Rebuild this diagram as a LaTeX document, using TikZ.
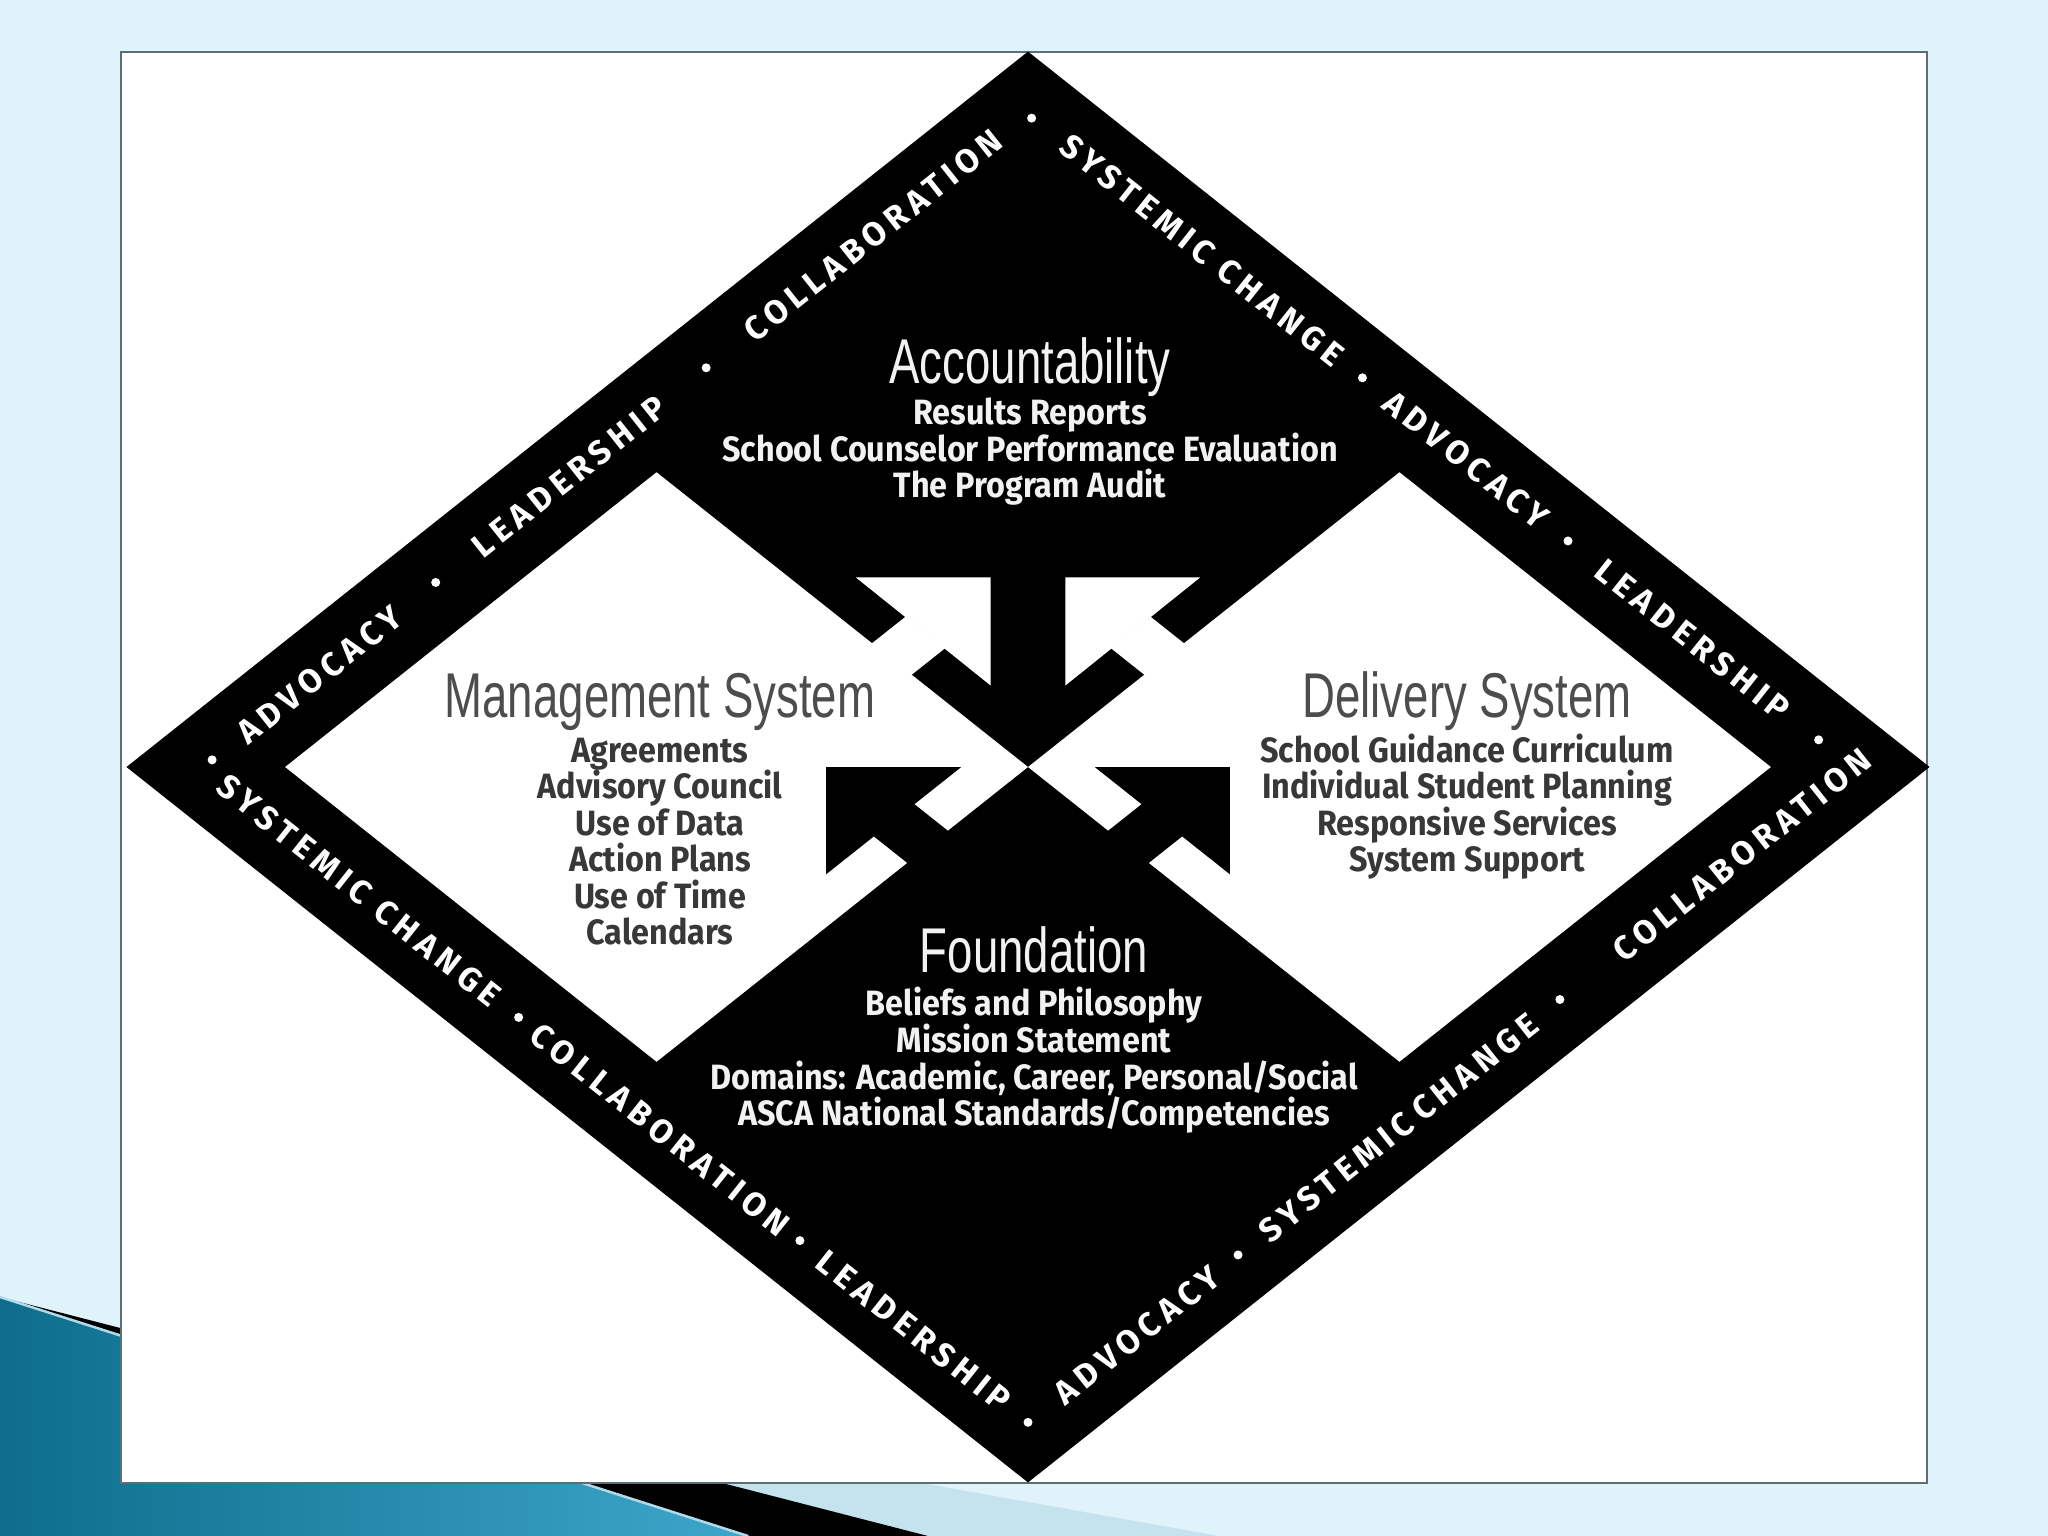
\documentclass[tikz,border=0pt]{standalone}
\usepackage{fontspec}
\newfontfamily\titlefont[FakeStretch=0.72]{Liberation Sans}
\newfontfamily\subfont[FakeStretch=0.92]{Fira Sans}
\newfontfamily\bandfont[LetterSpace=17]{Fira Sans}
\definecolor{bgcyan}{HTML}{E0F3FA}
\definecolor{lightwedge}{HTML}{C4E3EC}
\definecolor{tealA}{HTML}{0E6D8C}
\definecolor{tealB}{HTML}{3EA6CB}
\definecolor{panelborder}{HTML}{5E6E74}
\definecolor{graytitle}{HTML}{4D4D4D}
\definecolor{graysub}{HTML}{383838}
\definecolor{whitetext}{HTML}{F2F2F2}
\tikzset{
  titletext/.style={font=\titlefont\fontsize{18}{20}\selectfont, inner sep=0pt, anchor=base},
  subtext/.style={font=\subfont\bfseries\fontsize{10}{11}\selectfont, inner sep=0pt, anchor=base},
  bandword/.style={font=\bandfont\bfseries\fontsize{9.5}{10}\selectfont, text=white, inner sep=0pt, anchor=center},
  banddot/.style={circle, fill=white, inner sep=0pt, minimum size=0.09cm},
  upleft/.style={rotate=38.4},
  upright/.style={rotate=-38.4}
}
\begin{document}
\begin{tikzpicture}[x=0.01cm,y=-0.01cm]
\useasboundingbox (0,0) rectangle (2048,1536);
\fill[bgcyan] (0,0) rectangle (2048,1536);
% swoosh in the lower left corner
\fill[lightwedge] (247,1363) -- (1219,1536) -- (926,1536) -- cycle;
\shade[left color=tealA, right color=tealB] (0,1297) -- (748,1536) -- (0,1536) -- cycle;
\fill[black] (0,1297) -- (928,1536) -- (750,1536) -- cycle;
\draw[tealB!40!white, line width=0.025cm] (0,1297) -- (748,1536);
% white panel
\filldraw[fill=white, draw=panelborder, line width=0.02cm] (120.7,51.7) rectangle (1927,1483);

\begin{scope}[shift={(1028,767)}, x=9.01cm, y=7.15cm]
  % big black diamond
  \fill[black] (-1,0) -- (0,1) -- (1,0) -- (0,-1) -- cycle;
  % white squares
  \fill[white] (-0.824,0) -- (-0.412,0.412) -- (0,0) -- (-0.412,-0.412) -- cycle;
  \fill[white] (0.824,0) -- (0.412,0.412) -- (0,0) -- (0.412,-0.412) -- cycle;
  % white arrows into Accountability
  \fill[white] (-0.134,0.124) -- (-0.178,0.168) -- (-0.136,0.210) -- (-0.092,0.166) -- cycle;
  \fill[white] (-0.191,0.265) -- (-0.0415,0.265) -- (-0.0415,0.114) -- cycle;
  \fill[white] (0.134,0.124) -- (0.178,0.168) -- (0.136,0.210) -- (0.092,0.166) -- cycle;
  \fill[white] (0.191,0.265) -- (0.0415,0.265) -- (0.0415,0.114) -- cycle;
  % black arrows from Foundation
  \fill[black] (-0.129,-0.139) -- (-0.084,-0.094) -- (-0.127,-0.051) -- (-0.172,-0.096) -- cycle;
  \fill[black] (-0.224,0) -- (-0.074,0) -- (-0.224,-0.15) -- cycle;
  \fill[black] (0.129,-0.139) -- (0.084,-0.094) -- (0.127,-0.051) -- (0.172,-0.096) -- cycle;
  \fill[black] (0.224,0) -- (0.074,0) -- (0.224,-0.15) -- cycle;

  % band text: upper left edge
  \node[bandword, upleft] (ul1) at (-0.786,0.129) {ADVOCACY};
  \node[banddot] (uld1) at (-0.657,0.258) {};
  \node[bandword, upleft] (ul2) at (-0.509,0.406) {LEADERSHIP};
  \node[banddot] (uld2) at (-0.357,0.558) {};
  \node[bandword, upleft] (ul3) at (-0.172,0.743) {COLLABORATION};
  \node[banddot] (topdot) at (0.004,0.907) {};
  % upper right edge
  \node[bandword, upright] (ur1) at (0.193,0.722) {SYSTEMIC CHANGE};
  \node[banddot] (urd1) at (0.371,0.544) {};
  \node[bandword, upright] (ur2) at (0.486,0.429) {ADVOCACY};
  \node[banddot] (urd2) at (0.599,0.316) {};
  \node[bandword, upright] (ur3) at (0.737,0.178) {LEADERSHIP};
  \node[banddot] (rightdot) at (0.877,0.038) {};
  % lower right edge
  \node[bandword, upleft] (lr1) at (0.121,-0.794) {ADVOCACY};
  \node[banddot] (lrd1) at (0.233,-0.682) {};
  \node[bandword, upleft] (lr2) at (0.411,-0.504) {SYSTEMIC\kern-1.5pt\ CHANGE};
  \node[banddot] (lrd2) at (0.590,-0.325) {};
  \node[bandword, upleft] (lr3) at (0.792,-0.123) {COLLABORATION};
  % lower left edge
  \node[banddot] (leftdot) at (-0.905,0.010) {};
  \node[bandword, upright] (ll1) at (-0.742,-0.173) {SYSTEMIC CHANGE};
  \node[banddot] (lld1) at (-0.565,-0.350) {};
  \node[bandword, upright] (ll2) at (-0.408,-0.507) {COLLABORATION};
  \node[banddot] (lld2) at (-0.253,-0.662) {};
  \node[bandword, upright] (ll3) at (-0.127,-0.788) {LEADERSHIP};
  \node[banddot] (bottomdot) at (0,-0.916) {};
\end{scope}

% Accountability
\node[titletext, text=whitetext] (acct) at (1030,383) {Accountability};
\node[subtext, text=whitetext] (acc1) at (1030,424) {Results Reports};
\node[subtext, text=whitetext] (acc2) at (1030,461) {School Counselor Performance Evaluation};
\node[subtext, text=whitetext] (acc3) at (1030,497) {The Program Audit};
% Management System
\node[titletext, text=graytitle] (mant) at (660,717) {Management System};
\node[subtext, text=graysub] (man1) at (660,762) {Agreements};
\node[subtext, text=graysub] (man2) at (660,798) {Advisory Council};
\node[subtext, text=graysub] (man3) at (660,835) {Use of Data};
\node[subtext, text=graysub] (man4) at (660,871) {Action Plans};
\node[subtext, text=graysub] (man5) at (660,908) {Use of Time};
\node[subtext, text=graysub] (man6) at (660,944) {Calendars};
% Delivery System
\node[titletext, text=graytitle] (delt) at (1467,717) {Delivery System};
\node[subtext, text=graysub] (del1) at (1467,762) {School Guidance Curriculum};
\node[subtext, text=graysub] (del2) at (1467,798) {Individual Student Planning};
\node[subtext, text=graysub] (del3) at (1467,835) {Responsive Services};
\node[subtext, text=graysub] (del4) at (1467,871) {System Support};
% Foundation
\node[titletext, text=whitetext] (fount) at (1034,972) {Foundation};
\node[subtext, text=whitetext] (fou1) at (1034,1015) {Beliefs and Philosophy};
\node[subtext, text=whitetext] (fou2) at (1034,1052) {Mission Statement};
\node[subtext, text=whitetext] (fou3) at (1034,1089) {Domains: Academic, Career, Personal/Social};
\node[subtext, text=whitetext] (fou4) at (1034,1125) {ASCA National Standards/Competencies};
\end{tikzpicture}
\end{document}
